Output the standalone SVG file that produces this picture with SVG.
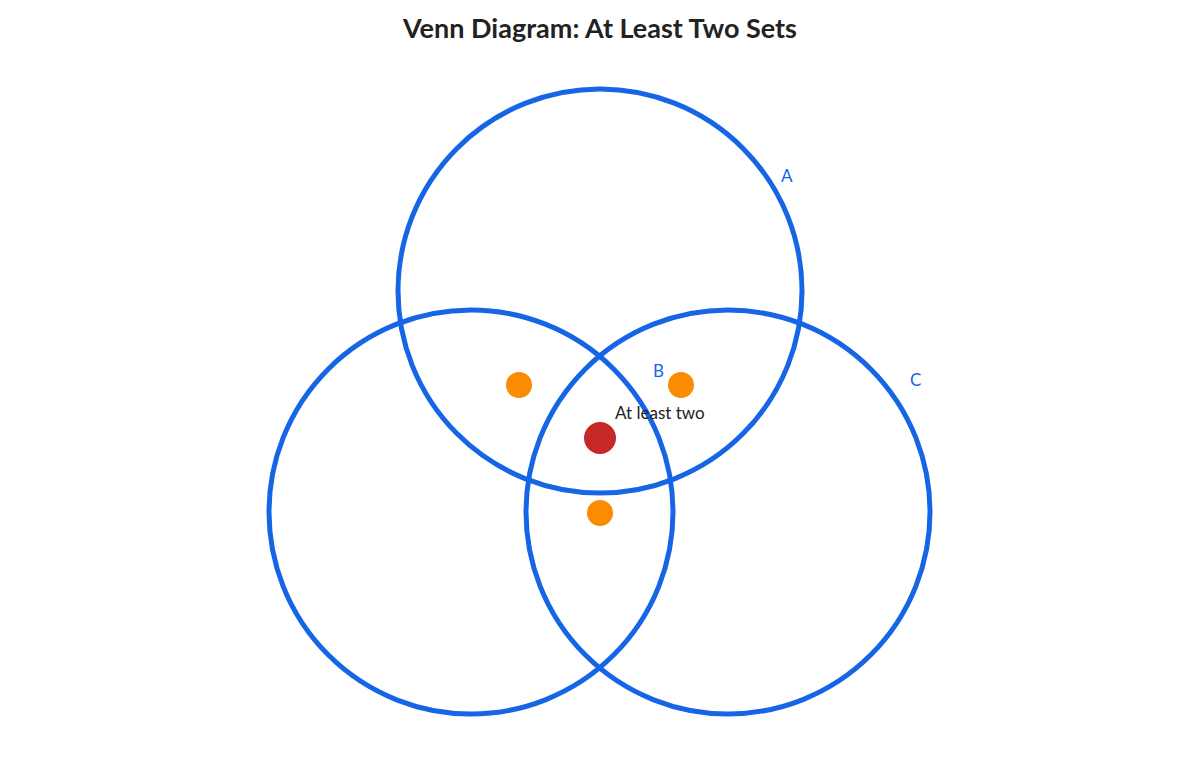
<svg xmlns="http://www.w3.org/2000/svg" width="1200" height="763" viewBox="0 0 1200 763">
<style>
.set{fill:none;stroke:#1565e6;stroke-width:5}
.lbl{font-family:"Lato","Liberation Sans",sans-serif;font-size:17px;fill:#1565e6}
.pt{fill:#fb8c00}
</style>
<rect width="1200" height="763" fill="#fff"/>
<text x="600" y="38" text-anchor="middle" font-family="Lato,'Liberation Sans',sans-serif" font-weight="bold" font-size="27" fill="#222">Venn Diagram: At Least Two Sets</text>
<g id="setA"><circle class="set" cx="600" cy="291" r="202"/><text class="lbl" x="781" y="182">A</text></g>
<g id="setB"><circle class="set" cx="471" cy="512" r="202"/><text class="lbl" x="653" y="377">B</text></g>
<g id="setC"><circle class="set" cx="728" cy="512" r="202"/><text class="lbl" x="910" y="386">C</text></g>
<g id="points">
<circle class="pt" cx="519" cy="385" r="13"/>
<circle class="pt" cx="681" cy="385" r="13"/>
<circle class="pt" cx="600" cy="513" r="13"/>
<circle cx="600" cy="438" r="16" fill="#c62828"/>
<text x="615" y="419" font-family="Lato,'Liberation Sans',sans-serif" font-size="17" fill="#222">At least two</text>
</g>
<g id="connectors"/>
</svg>
